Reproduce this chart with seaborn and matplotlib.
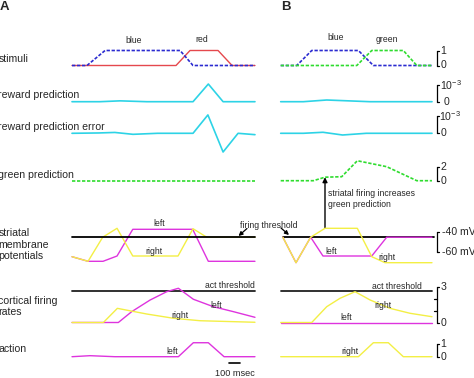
import matplotlib
matplotlib.use("Agg")
import matplotlib.pyplot as plt
import seaborn as sns

sns.set_style("white")
plt.rcParams["font.family"] = ["Liberation Sans", "DejaVu Sans"]
plt.rcParams["mathtext.fontset"] = "custom"
plt.rcParams["mathtext.rm"] = "Liberation Sans"
plt.rcParams["mathtext.it"] = "Liberation Sans"

# ---------------- data (time in msec) ----------------
# Panel A
stimA_blue_t = [0, 140, 309, 1010, 1131, 1710]
stimA_blue_v = [0, 0, 1, 1, 0, 0]
stimA_red_t = [0, 972, 1103, 1365, 1496, 1710]
stimA_red_v = [0, 0, 1, 1, 0, 0]
rpA_t = [0, 260, 449, 700, 1131, 1274, 1412, 1710]
rpA_v = [0, 0, 0.05e-3, 0, 0, 1.04e-3, 0, 0]
rpeA_t = [0, 250, 400, 570, 800, 1131, 1270, 1412, 1552, 1710]
rpeA_v = [0, 0.02e-3, 0.05e-3, -0.06e-3, 0, 0, 1.08e-3, -1.1e-3, 0, -0.08e-3]
greenA_t = [0, 1710]
greenA_v = [0, 0]
strA_right_t = [0, 150, 287, 421, 568, 991, 1131, 1259, 1710]
strA_right_v = [-65, -69.6, -45.5, -36.6, -64.3, -64.3, -37, -45.5, -45.5]
strA_left_t = [0, 150, 290, 421, 568, 1128, 1274, 1710]
strA_left_v = [-65, -69.6, -69.6, -64.3, -37.6, -37.6, -69.6, -69.6]
ctxA_left_t = [0, 433, 558, 729, 885, 994, 1134, 1321, 1508, 1710]
ctxA_left_v = [0, 0, 0.92, 1.9, 2.61, 2.9, 1.97, 1.34, 0.92, 0.44]
ctxA_right_t = [0, 293, 424, 698, 947, 1197, 1710]
ctxA_right_v = [0, 0, 1.2, 0.72, 0.36, 0.15, 0.02]
actA_left_t = [0, 168, 400, 994, 1134, 1274, 1421, 1710]
actA_left_v = [0, 0.08, 0, 0, 1.1, 1.1, 0, 0]

# Panel B
stimB_blue_t = [0, 150, 290, 726, 866, 1414]
stimB_blue_v = [0, 0, 1, 1, 0, 0]
stimB_green_t = [0, 711, 851, 1146, 1272, 1414]
stimB_green_v = [0, 0, 1, 1, 0, 0]
rpB_t = [0, 211, 430, 835, 1414]
rpB_v = [0, 0, 0.1e-3, 0, 0]
rpeB_t = [0, 211, 395, 578, 800, 1414]
rpeB_v = [0, 0, 0.06e-3, -0.1e-3, 0, 0]
greenB_t = [0, 305, 414, 570, 716, 991, 1272, 1414]
greenB_v = [0, 0, 0.5, 0.57, 2.85, 2.0, 0, 0]
strB_right_t = [20, 143, 280, 414, 716, 851, 975, 1414]
strB_right_v = [-45.5, -71, -45.5, -36.6, -36.6, -65, -71, -71]
strB_left_t = [20, 143, 280, 395, 851, 991, 1414]
strB_left_v = [-45.5, -71, -45.5, -64.3, -64.3, -45.5, -45.5]
ctxB_right_t = [0, 290, 430, 554, 695, 835, 1022, 1209, 1414]
ctxB_right_v = [0, 0, 1.34, 2.05, 2.61, 1.91, 1.2, 0.78, 0.49]
ctxB_left_t = [0, 1414]
ctxB_left_v = [0, 0]
actB_right_t = [0, 726, 866, 1006, 1146, 1414]
actB_right_v = [0, 0, 1.1, 1.1, 0, 0]

firing_threshold = -45.5   # mV
act_threshold = 2.65

row_labels = ["stimuli", "reward prediction", "reward prediction error",
              "green prediction", "striatal\nmembrane\npotentials",
              "cortical firing\nrates", "action"]

# ---------------- layout ----------------
W, H, DPI = 474, 378, 100
fig = plt.figure(figsize=(W / DPI, H / DPI), dpi=DPI)

PX_PER_MS = 0.107
PANELS = {"A": (72.0, 1710), "B": (280.7, 1414)}
# row: (band top px, band bottom px, px of value 0, px per unit)
ROWS = {
    "stim": (28, 74, 65.5, 15.0),
    "rp": (76, 110, 101.7, 17000.0),
    "rpe": (108, 162, 133.3, 17000.0),
    "green": (152, 192, 180.7, 7.0),
    "str": (212, 270, 191.7, 1.0),
    "ctx": (278, 330, 322.5, 11.8),
    "act": (332, 378, 356.7, 12.7),
}


def make_ax(panel, row):
    x0, tmax = PANELS[panel]
    x1 = x0 + tmax * PX_PER_MS
    ytop, ybot, y0, k = ROWS[row]
    ax = fig.add_axes([x0 / W, 1 - ybot / H, (x1 - x0) / W, (ybot - ytop) / H])
    ax.set_xlim(0, tmax)
    ax.set_ylim((y0 - ybot) / k, (y0 - ytop) / k)
    ax.axis("off")
    ax.patch.set_alpha(0)
    return ax


def trace(ax, t, v, color, lw=1.0, ls="-"):
    sns.lineplot(x=t, y=v, ax=ax, color=color, lw=lw, linestyle=ls,
                 estimator=None, sort=False)
    for ln in ax.lines:
        ln.set_clip_on(False)


def t_of(panel, px):
    return (px - PANELS[panel][0]) / PX_PER_MS


def v_of(row, py):
    _, _, y0, k = ROWS[row]
    return (y0 - py) / k


BLUE = "#2b2bd0"
RED = "#e5484d"
GREEN = "#2fdc2f"
CYAN = "#2dd3e6"
MAG = "#de34de"
YEL = "#f3ef45"
SMALL = 6.2
MID = 7.6

axes = {}
for p in "AB":
    for r in ROWS:
        axes[(p, r)] = make_ax(p, r)

# stimuli
trace(axes[("A", "stim")], stimA_red_t, stimA_red_v, RED, lw=1.0)
trace(axes[("A", "stim")], stimA_blue_t, stimA_blue_v, BLUE, lw=1.2, ls=(0, (2, 1)))
trace(axes[("B", "stim")], stimB_blue_t, stimB_blue_v, BLUE, lw=1.2, ls=(0, (2, 1)))
trace(axes[("B", "stim")], stimB_green_t, stimB_green_v, GREEN, lw=1.2, ls=(0, (2, 1)))
# reward prediction / error
trace(axes[("A", "rp")], rpA_t, rpA_v, CYAN, lw=1.2)
trace(axes[("B", "rp")], rpB_t, rpB_v, CYAN, lw=1.2)
trace(axes[("A", "rpe")], rpeA_t, rpeA_v, CYAN, lw=1.2)
trace(axes[("B", "rpe")], rpeB_t, rpeB_v, CYAN, lw=1.2)
# green prediction
trace(axes[("A", "green")], greenA_t, greenA_v, GREEN, lw=1.2, ls=(0, (2, 1)))
trace(axes[("B", "green")], greenB_t, greenB_v, GREEN, lw=1.2, ls=(0, (2, 1)))
# striatal membrane potentials
axSA = axes[("A", "str")]
trace(axSA, strA_left_t, strA_left_v, MAG)
trace(axSA, strA_right_t, strA_right_v, YEL)
axSA.axhline(firing_threshold, color="black", lw=1.3, clip_on=False, zorder=5)
axSB = axes[("B", "str")]
axSB.axhline(firing_threshold, xmin=strB_left_t[0] / PANELS["B"][1], xmax=1.01,
             color="black", lw=1.3, clip_on=False)
trace(axSB, strB_left_t, strB_left_v, MAG)
trace(axSB, strB_right_t, strB_right_v, YEL)
# cortical firing rates
for p, tl, vl, tr, vr in [("A", ctxA_left_t, ctxA_left_v, ctxA_right_t, ctxA_right_v),
                          ("B", ctxB_left_t, ctxB_left_v, ctxB_right_t, ctxB_right_v)]:
    ax = axes[(p, "ctx")]
    ax.axhline(act_threshold, color="#202020", lw=1.3, clip_on=False)
    trace(ax, tl, vl, MAG)
    trace(ax, tr, vr, YEL)
# action
trace(axes[("A", "act")], actA_left_t, actA_left_v, MAG)
trace(axes[("B", "act")], actB_right_t, actB_right_v, YEL)

# ---------------- text labels on traces ----------------
def lab(p, r, px, py, s, ha="center", size=SMALL):
    axes[(p, r)].text(t_of(p, px), v_of(r, py), s, ha=ha, va="center",
                      fontsize=size, clip_on=False)

lab("A", "stim", 133.7, 40, "blue")
lab("A", "stim", 202, 39, "red")
lab("B", "stim", 336, 37.5, "blue")
lab("B", "stim", 386.7, 39.5, "green")
lab("A", "str", 159, 223.5, "left")
lab("A", "str", 154, 252, "right")
lab("B", "str", 331, 252, "left")
lab("B", "str", 387, 257.5, "right")
lab("A", "str", 240, 226, "firing threshold", ha="left")
lab("A", "ctx", 254.5, 285.7, "act threshold", ha="right")
lab("B", "ctx", 372.5, 286.5, "act threshold", ha="left")
lab("A", "ctx", 216, 305, "left")
lab("A", "ctx", 180, 316, "right")
lab("B", "ctx", 346, 317.5, "left")
lab("B", "ctx", 382.7, 305, "right")
lab("A", "act", 171.7, 351, "left")
lab("B", "act", 350, 351, "right")
lab("B", "green", 328, 194, "striatal firing increases", ha="left")
lab("B", "green", 328, 204.5, "green prediction", ha="left")

# firing-threshold arrows
axSA.annotate("", xy=(t_of("A", 238.5), v_of("str", 236)),
              xytext=(t_of("A", 247), v_of("str", 228.5)),
              arrowprops=dict(arrowstyle="-|>", color="black", lw=0.9,
                              mutation_scale=6, shrinkA=0, shrinkB=0),
              annotation_clip=False)
axSA.annotate("", xy=(t_of("A", 289), v_of("str", 235)),
              xytext=(t_of("A", 281), v_of("str", 228)),
              arrowprops=dict(arrowstyle="-|>", color="black", lw=0.9,
                              mutation_scale=6, shrinkA=0, shrinkB=0),
              annotation_clip=False)
# striatal firing -> green prediction arrow
axG = axes[("B", "green")]
axG.annotate("", xy=(414, greenB_v[2]), xycoords=axG.transData,
             xytext=(414, strB_right_v[3]), textcoords=axSB.transData,
             arrowprops=dict(arrowstyle="-|>", color="black", lw=1.0,
                             mutation_scale=7, shrinkA=0, shrinkB=0),
             annotation_clip=False)

# ---------------- scale brackets (right of panel B) ----------------
def bracket(r, v0, v1, top, bottom, ticks=(), tick_side=1, text_dx=4, bottom_dx=4):
    ax = axes[("B", r)]
    xb = t_of("B", 436.5)
    d = 2.2 / PX_PER_MS
    kw = dict(color="black", lw=0.9, clip_on=False)
    ax.plot([xb, xb], [v0, v1], **kw)
    ax.plot([xb, xb + d], [v0, v0], **kw)
    ax.plot([xb, xb + d], [v1, v1], **kw)
    for tv in ticks:
        ax.plot([xb, xb - tick_side * d], [tv, tv], **kw)
    ax.text(xb + text_dx / PX_PER_MS, v1, top, fontsize=MID, ha="left",
            va="center", clip_on=False)
    ax.text(xb + bottom_dx / PX_PER_MS, v0, bottom, fontsize=MID, ha="left",
            va="center", clip_on=False)

bracket("stim", 0, 1, "1", "0")
bracket("rp", 0, 1e-3, r"10$^{\mathrm{-3}}$", "0", text_dx=4, bottom_dx=7)
bracket("rpe", 0, 1e-3, r"10$^{\mathrm{-3}}$", "0", text_dx=2.5)
bracket("green", 0, 2, "2", "0")
bracket("str", -60, -40, "-40 mV", "-60 mV", text_dx=5, bottom_dx=5)
bracket("ctx", 0, 3, "3", "0", ticks=(1, 2))
bracket("act", 0, 1, "1", "0")

# 100 msec scale bar
axA = axes[("A", "act")]
sb_t0 = t_of("A", 229.5)
axA.plot([sb_t0, sb_t0 + 100], [v_of("act", 363)] * 2, color="black", lw=1.2,
         clip_on=False)
axA.text(sb_t0 + 50, v_of("act", 373), "100 msec", ha="center", va="center",
         fontsize=6.6, clip_on=False)

# ---------------- row labels & panel letters ----------------
row_y = [58.5, 95.5, 126.5, 175.5, 244.5, 306.5, 348.5]
for s, y in zip(row_labels, row_y):
    fig.text(-1.5 / W, 1 - y / H, s, fontsize=MID, ha="left", va="center",
             linespacing=1.2)
fig.text(4.5 / W, 1 - 6.5 / H, "A", fontsize=9.5, fontweight="bold",
         ha="center", va="center")
fig.text(286 / W, 1 - 6.5 / H, "B", fontsize=9.5, fontweight="bold",
         ha="center", va="center")

fig.savefig("out.png", dpi=DPI)
